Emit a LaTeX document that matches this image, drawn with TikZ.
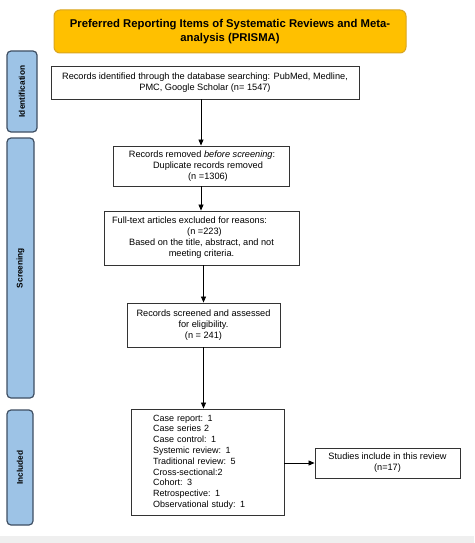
\documentclass[tikz,border=0pt]{standalone}
\usepackage{fontspec}
\setmainfont{Liberation Sans}
\usetikzlibrary{arrows.meta}
\definecolor{gold}{HTML}{FFC000}
\definecolor{goldline}{HTML}{D9A520}
\definecolor{sideblue}{HTML}{9DC3E6}
\definecolor{sideline}{HTML}{3F4F63}
\definecolor{band}{HTML}{EFEFEF}
\begin{document}
\begin{tikzpicture}[x=1pt,y=-1pt,
  titlebox/.style={draw=goldline,fill=gold,rounded corners=6pt,line width=1pt,
    minimum width=352pt,minimum height=43pt,align=center,
    font=\fontsize{11.3}{14.5}\selectfont\bfseries,inner sep=0pt},
  sidebox/.style={draw=sideline,fill=sideblue,rounded corners=4pt,line width=1.2pt,
    inner sep=0pt},
  sidelbl/.style={rotate=90,font=\fontsize{8.3}{9}\selectfont\bfseries},
  flowbox/.style={draw=black!80,line width=0.9pt,fill=white,align=center,inner sep=0pt,
    font=\fontsize{9.2}{11}\selectfont},
  arr/.style={-{Triangle[length=6pt,width=5pt]},line width=0.8pt,black}]
\useasboundingbox (0,0) rectangle (474,543);
\fill[white] (0,0) rectangle (474,543);
\fill[band] (0,536) rectangle (474,543);

\node[titlebox] (title) at (230,31.5) {Preferred Reporting Items of Systematic Reviews and Meta-\\analysis (PRISMA)};

\node[sidebox,minimum width=30pt,minimum height=81pt] (ident) at (22,91.5) {};
\node[sidelbl] (identlbl) at (ident.center) {Identification};
\node[sidebox,minimum width=27pt,minimum height=260pt] (screen) at (20.5,268) {};
\node[sidelbl] (screenlbl) at (screen.center) {Screening};
\node[sidebox,minimum width=26pt,minimum height=115pt] (incl) at (20,467.5) {};
\node[sidelbl] (incllbl) at (incl.center) {Included};

\node[flowbox,minimum width=308pt,minimum height=33pt] (b1) at (205,82.5)
  {Records identified through the database searching: PubMed, Medline,\\PMC, Google Scholar (n= 1547)};
\node[flowbox,minimum width=176pt,minimum height=40pt] (b2) at (201,166)
  {Records removed \textit{before screening}:\hspace*{-2pt}\\\hspace*{14pt}Duplicate records removed\\\hspace*{14pt}(n =1306)};
\node[flowbox,minimum width=195pt,minimum height=54pt] (b3) at (201.5,238)
  {Full-text articles excluded for reasons:\hspace*{24pt}\\\hspace*{6pt}(n =223)\\Based on the title, abstract, and not\\meeting criteria.};
\node[flowbox,minimum width=153pt,minimum height=44pt] (b4) at (203.5,325)
  {Records screened and assessed\\for eligibility.\\(n = 241)};
\node[flowbox,align=left,text width=109pt,inner xsep=22pt,minimum height=106pt,
  font=\fontsize{9}{10.8}\selectfont] (b5) at (207.5,462)
  {Case report: 1\\Case series 2\\Case control: 1\\Systemic review: 1\\Traditional review: 5\\Cross-sectional:2\\Cohort: 3\\Retrospective: 1\\Observational study: 1};
\node[flowbox,minimum width=145pt,minimum height=30pt] (b6) at (387.5,463)
  {Studies include in this review\\(n=17)};

\draw[arr] (b1.south -| b2.north) -- (b2.north);
\draw[arr] (b2.south) -- (b2.south |- b3.north);
\draw[arr] (b3.south -| b4.north) -- (b4.north);
\draw[arr] (b4.south) -- (b4.south |- b5.north);
\draw[arr] (b5.east |- b6.west) -- (b6.west);
\end{tikzpicture}
\end{document}
